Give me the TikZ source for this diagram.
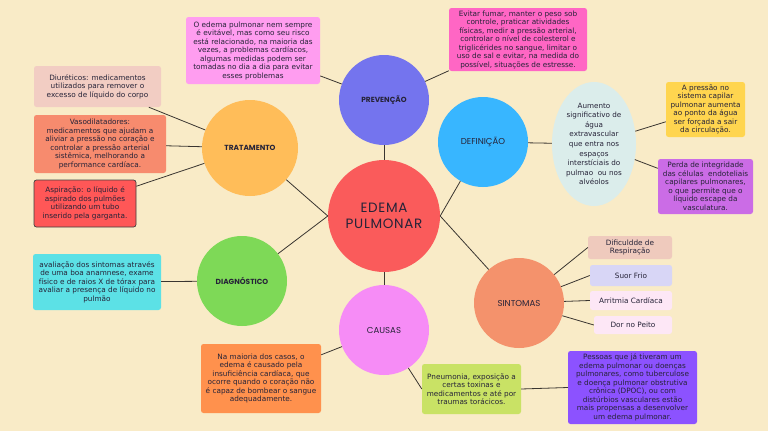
\documentclass[tikz,border=0pt]{standalone}
\usepackage{fontspec}
\setmainfont{DejaVu Sans}
\newfontfamily\topicfont{Poppins}
\newfontfamily\titlefont[LetterSpace=5]{Poppins}
\usetikzlibrary{shapes.geometric}
\definecolor{bgCream}{HTML}{F9EBC7}
\definecolor{txtDark}{HTML}{262338}
\definecolor{lineDark}{HTML}{3A3530}
\definecolor{edemaRed}{HTML}{FA5B5B}
\definecolor{prevBlue}{HTML}{7474EE}
\definecolor{definBlue}{HTML}{38B6FF}
\definecolor{tratOrange}{HTML}{FFBD59}
\definecolor{diagGreen}{HTML}{7ED957}
\definecolor{causasPink}{HTML}{F68CF6}
\definecolor{sintSalmon}{HTML}{F4926C}
\definecolor{ellBlue}{HTML}{DBEDEB}
\definecolor{notePink}{HTML}{FF9DF0}
\definecolor{noteMagenta}{HTML}{FF66C4}
\definecolor{noteBeige}{HTML}{F2CDC3}
\definecolor{noteSalmon}{HTML}{F78B6E}
\definecolor{noteRed}{HTML}{FF5757}
\definecolor{noteCyan}{HTML}{5CE1E6}
\definecolor{noteYellow}{HTML}{FFD54F}
\definecolor{notePurple}{HTML}{CB6CE6}
\definecolor{noteRose}{HTML}{EFCABD}
\definecolor{noteLilac}{HTML}{D8D6F6}
\definecolor{noteBlush}{HTML}{FDE7F6}
\definecolor{noteOrange}{HTML}{FF914D}
\definecolor{noteLime}{HTML}{C9E265}
\definecolor{noteViolet}{HTML}{8C52FF}

\tikzset{
  topic/.style={circle, inner sep=0pt, text=txtDark, font=\topicfont\fontsize{8.6}{10}\selectfont},
  keytopic/.style={topic, font=\topicfont\bfseries\fontsize{7.4}{9}\selectfont},
  note/.style={rectangle, rounded corners=2.5pt, align=center, inner sep=0pt, text=txtDark, font=\fontsize{7.3}{8.5}\selectfont},
  link/.style={draw=lineDark, line width=0.8pt}
}

\begin{document}
\begin{tikzpicture}[x=1pt, y=-1pt]
    % Background
    \fill[bgCream] (0,0) rectangle (768,431);
    \useasboundingbox (0,0) rectangle (768,431);

    % Central topic
    \node[circle, fill=edemaRed, minimum size=112, inner sep=0pt, align=center, text=txtDark,
          font=\titlefont\fontsize{13.5}{16}\selectfont] (edema) at (384,216) {EDEMA\\PULMONAR};

    % Branch topics
    \node[keytopic, fill=prevBlue, minimum size=90] (prev) at (384,100) {PREVENÇÃO};
    \node[topic, fill=definBlue, minimum size=90] (defin) at (483,142) {DEFINIÇÃO};
    \node[keytopic, fill=tratOrange, minimum size=96] (trat) at (250,148) {TRATAMENTO};
    \node[keytopic, fill=diagGreen, minimum size=90] (diag) at (242,281) {DIAGNÓSTICO};
    \node[topic, fill=causasPink, minimum size=90] (causas) at (384,330) {CAUSAS};
    \node[topic, fill=sintSalmon, minimum size=90] (sint) at (519,303) {SINTOMAS};

    % Prevencao notes
    \node[note, fill=notePink, minimum width=134, minimum height=67] (prevNote) at (253,50.5)
        {O edema pulmonar nem sempre\\é evitável, mas como seu risco\\está relacionado, na maioria das\\vezes, a problemas cardíacos,\\algumas medidas podem ser\\tomadas no dia a dia para evitar\\esses problemas};
    \node[note, fill=noteMagenta, minimum width=138, minimum height=63] (prevTips) at (518,39.5)
        {Evitar fumar, manter o peso sob\\controle, praticar atividades\\físicas, medir a pressão arterial,\\controlar o nível de colesterol e\\triglicérides no sangue, limitar o\\uso de sal e evitar, na medida do\\possível, situações de estresse.};

    % Tratamento notes
    \node[note, fill=noteBeige, minimum width=127, minimum height=41] (diuret) at (97.5,86.5)
        {Diuréticos: medicamentos\\utilizados para remover o\\excesso de líquido do corpo};
    \node[note, fill=noteSalmon, minimum width=132, minimum height=58] (vasod) at (100,144)
        {Vasodilatadores:\\medicamentos que ajudam a\\aliviar a pressão no coração e\\controlar a pressão arterial\\sistêmica, melhorando a\\performance cardíaca.};
    \node[note, fill=noteRed, draw=black!75, line width=0.7pt, minimum width=102, minimum height=47] (aspir) at (85,203.5)
        {Aspiração: o líquido é\\aspirado dos pulmões\\utilizando um tubo\\inserido pela garganta.};

    % Diagnostico note
    \node[note, fill=noteCyan, minimum width=128, minimum height=56] (diagNote) at (97,282)
        {avaliação dos sintomas através\\de uma boa anamnese, exame\\físico e de raios X de tórax para\\avaliar a presença de líquido no\\pulmão};

    % Definicao notes
    \node[ellipse, fill=ellBlue, inner sep=0pt, minimum width=84, minimum height=124, align=center,
          text=txtDark, font=\fontsize{7.2}{9.6}\selectfont] (aumento) at (594,144)
        {Aumento\\significativo de\\água\\extravascular\\que entra nos\\espaços\\interstíciais do\\pulmao~ ou nos\\alvéolos};
    \node[note, fill=noteYellow, minimum width=79, minimum height=55] (pressao) at (705.5,109.5)
        {A pressão no\\sistema capilar\\pulmonar aumenta\\ao ponto da água\\ser forçada a sair\\da circulação.};
    \node[note, fill=notePurple, minimum width=95, minimum height=55] (perda) at (705.5,186.5)
        {Perda de integridade\\das células~ endoteliais\\capilares pulmonares,\\o que permite que o\\líquido escape da\\vasculatura.};

    % Sintomas notes
    \node[note, fill=noteRose, minimum width=84, minimum height=23] (dificul) at (630,247.5)
        {Dificuldde de\\Respiração};
    \node[note, fill=noteLilac, minimum width=82, minimum height=21] (suor) at (631,275.5) {Suor Frio};
    \node[note, fill=noteBlush, minimum width=82, minimum height=19] (arritmia) at (631,300.5) {Arritmia Cardíaca};
    \node[note, fill=noteBlush, minimum width=78, minimum height=18] (dor) at (633,325) {Dor no Peito};

    % Causas notes
    \node[note, fill=noteOrange, minimum width=120, minimum height=69] (maioria) at (261,378.5)
        {Na maioria dos casos, o\\edema é causado pela\\insuficiência cardíaca, que\\ocorre quando o coração não\\é capaz de bombear o sangue\\adequadamente.};
    \node[note, fill=noteLime, minimum width=99, minimum height=50] (pneumo) at (471.5,389)
        {Pneumonia, exposição a\\certas toxinas e\\medicamentos e até por\\traumas torácicos.};
    \node[note, fill=noteViolet, minimum width=129, minimum height=73] (pessoas) at (632.5,387.5)
        {Pessoas que já tiveram um\\edema pulmonar ou doenças\\pulmonares, como tuberculose\\e doença pulmonar obstrutiva\\crônica (DPOC), ou com\\distúrbios vasculares estão\\mais propensas a desenvolver\\um edema pulmonar.};

    % Connectors
    \draw[link] (edema.north) -- (prev.south);
    \draw[link] (edema.south) -- (causas.north);
    \draw[link] (edema.east) -- (defin);
    \draw[link] (edema.east) -- (sint);
    \draw[link] (edema.west) -- (trat);
    \draw[link] (edema.west) -- (diag);

    \draw[link] (prev) -- (prevNote);
    \draw[link] (prev) -- (prevTips);
    \draw[link] (trat) -- (diuret);
    \draw[link] (trat) -- (vasod);
    \draw[link] (trat) -- (aspir);
    \draw[link] (diag) -- (diagNote);
    \draw[link] (defin) -- (aumento);
    \draw[link] (aumento) -- (pressao);
    \draw[link] (aumento) -- (perda);
    \foreach \s in {dificul, suor, arritmia, dor}
        \draw[link] (sint) -- (\s.west);
    \draw[link] (causas) -- (maioria);
    \draw[link] (causas) -- (pneumo.west);
    \draw[link] (pneumo.east) -- (pessoas.west);
\end{tikzpicture}
\end{document}
